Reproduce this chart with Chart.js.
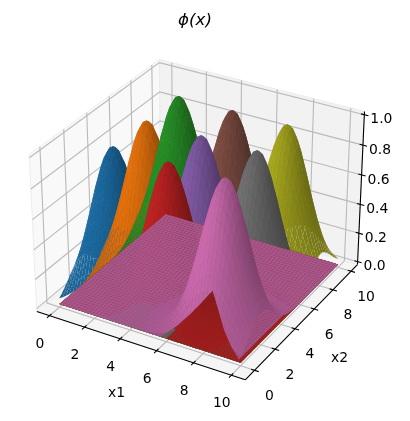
<!doctype html>
<html>
<head>
    <title>phi(x)</title>
    <script src="https://cdn.jsdelivr.net/npm/chart.js@4/dist/chart.umd.js"></script>
    <style>
        html, body { margin: 0; padding: 0; background: #fff; }
        canvas { display: block; }
    </style>
</head>
<body>
    <canvas id="canvas" width="410" height="421"></canvas>
    <script>
        // values
        const gridValues = [0,0.2,0.4,0.6,0.8,1,1.2,1.4,1.6,1.8,2,2.2,2.4,2.6,2.8,3,3.2,3.4,3.6,3.8,4,4.2,4.4,4.6,4.8,5,5.2,5.4,5.6,5.8,6,6.2,6.4,6.6,6.8,7,7.2,7.4,7.6,7.8,8,8.2,8.4,8.6,8.8,9,9.2,9.4,9.6,9.8,10];
        // height of a bump against grid steps away from its centre
        const bumpProfile = [1,0.984,0.938,0.866,0.775,0.671,0.563,0.458,0.361,0.275,0.203,0.145,0.101,0.068,0.044,0.028,0.017,0.01,0.006,0.003,0.002,0.001,0];
        const centreX1 = [2,2,2,5,5,5,8,8,8];
        const centreX2 = [2,5,8,2,5,8,2,5,8];
        const surfaceColours = ['#1f77b4','#ff7f0e','#2ca02c','#d62728','#9467bd','#8c564b','#e377c2','#7f7f7f','#bcbd22'];
        const paintOrder = [0,1,2,5,4,8,7,3,6];
        // floor outline where the last surface is missing and the red one shows
        const gapX1 = [5.6,5.7,5.88,5.9,5.87,5.79,6.85,8,9,10,10.5];
        const gapX2 = [-0.5,0.08,1.17,2.4,3.38,4.77,3.45,2,0.92,0,-0.5];
        const x1Ticks = [0,2,4,6,8,10];
        const x2Ticks = [0,2,4,6,8,10];
        const zTicks = [0,0.2,0.4,0.6,0.8,1];
        const zTickLabels = ['0.0','0.2','0.4','0.6','0.8','1.0'];

        const FONT = '"DejaVu Sans"';
        const xlim = [-0.5, 10.5], ylim = [-0.5, 10.5], zlim = [0, 1];
        const xlo = -0.729, xhi = 10.729, ylo = -0.88, yhi = 10.729, zlo = -0.0208, zhi = 1.0208;

        // same camera as a default mplot3d axes: elev 30, azim -60, dist 10
        const boxX = 1.1429, boxZ = 0.8571;
        const eye = [boxX/2 + 4.3301, boxX/2 - 7.5, boxZ/2 + 5];
        const U = [0.8660, 0.5, 0], V = [-0.25, 0.4330, 0.8660], W = [0.4330, -0.75, 0.5];

        function view(x1, x2, z) {
            const p = [
                (x1 - xlim[0]) / (xlim[1] - xlim[0]) * boxX - eye[0],
                (x2 - ylim[0]) / (ylim[1] - ylim[0]) * boxX - eye[1],
                (z - zlim[0]) / (zlim[1] - zlim[0]) * boxZ - eye[2]
            ];
            const d = -(W[0]*p[0] + W[1]*p[1] + W[2]*p[2]);
            return {
                x: (U[0]*p[0] + U[1]*p[1] + U[2]*p[2]) / d,
                y: (V[0]*p[0] + V[1]*p[1] + V[2]*p[2]) / d,
                depth: d
            };
        }

        // projected plane to canvas
        const zoom = 2030, originX = 198.5, originY = 213.5, titleBottom = 31;

        function shade(hex, k) {
            const n = parseInt(hex.slice(1), 16);
            return 'rgb(' + Math.round((n >> 16) * k) + ',' + Math.round(((n >> 8) & 255) * k) + ',' + Math.round((n & 255) * k) + ')';
        }

        function heightOf(s) {
            const ci = gridValues.indexOf(centreX1[s]), cj = gridValues.indexOf(centreX2[s]);
            return (i, j) => (bumpProfile[Math.abs(i - ci)] || 0) * (bumpProfile[Math.abs(j - cj)] || 0);
        }

        function addGap(ds) {
            ds.hole = gapX1.map((x1, i) => ds.data.push(view(x1, gapX2[i], 0)) - 1);
        }

        function surfaceDataset(s) {
            const n = gridValues.length, h = gridValues[1] - gridValues[0];
            const height = heightOf(s);
            const data = [], cells = [];
            for (let i = 0; i < n; i++) {
                for (let j = 0; j < n; j++) {
                    data.push(view(gridValues[i], gridValues[j], height(i, j)));
                }
            }
            for (let i = 0; i < n - 1; i++) {
                for (let j = 0; j < n - 1; j++) {
                    // normal of the cell from its diagonals, slopes a bit steeper to match the contrast
                    const dz1 = height(i+1, j+1) - height(i, j), dz2 = height(i, j+1) - height(i+1, j);
                    const nx = 1.3 * (dz2 - dz1) * h, ny = -1.3 * (dz1 + dz2) * h, nz = 2 * h * h;
                    const len = Math.hypot(nx, ny, nz);
                    const dot = (-0.6667 * nx - 0.6667 * ny + 0.3333 * nz) / len;
                    const k = 0.96 * (0.3 + 0.7 * (dot + 1) / 2);
                    const corners = [i*n+j, (i+1)*n+j, (i+1)*n+j+1, i*n+j+1];
                    let depth = 0;
                    corners.forEach(c => { depth += data[c].depth; });
                    cells.push({ corners: corners, colour: shade(surfaceColours[s], k), depth: depth });
                }
            }
            cells.sort((a, b) => b.depth - a.depth);
            return { type: 'surface', data: data, cells: cells };
        }

        // flat sheet under the raised part of a surface
        function floorDataset(s, k, fromX1, toX1) {
            const n = gridValues.length, height = heightOf(s);
            const data = [], cells = [];
            for (let i = 0; i < n; i++) {
                for (let j = 0; j < n; j++) {
                    data.push(view(gridValues[i], gridValues[j], 0));
                }
            }
            for (let i = 0; i < n - 1; i++) {
                if (gridValues[i] < fromX1 || gridValues[i+1] > toX1) continue;
                for (let j = 0; j < n - 1; j++) {
                    if (height(i, j) < 0.005 && height(i+1, j+1) < 0.005) continue;
                    cells.push({ corners: [i*n+j, (i+1)*n+j, (i+1)*n+j+1, i*n+j+1], colour: shade(surfaceColours[s], k) });
                }
            }
            return { type: 'surface', data: data, cells: cells };
        }

        function paneDataset(a, b, c, d, colour) {
            return {
                type: 'surface',
                data: [view(...a), view(...b), view(...c), view(...d)],
                cells: [{ corners: [0,1,2,3], colour: colour }],
                edge: '#ececec'
            };
        }

        function lineDataset(points, colour, width) {
            return {
                type: 'scatter', showLine: true, pointRadius: 0,
                borderColor: colour, borderWidth: width,
                data: points.map(p => view(...p))
            };
        }

        class SurfaceController extends Chart.ScatterController {
            draw() {
                const meta = this.getMeta(), ds = this.getDataset(), ctx = this.chart.ctx;
                const xs = meta.xScale, ys = meta.yScale;
                const trace = (list) => {
                    list.forEach((c, n) => {
                        const px = xs.getPixelForValue(ds.data[c].x), py = ys.getPixelForValue(ds.data[c].y);
                        if (n === 0) ctx.moveTo(px, py); else ctx.lineTo(px, py);
                    });
                    ctx.closePath();
                };
                ctx.save();
                if (ds.hole) {
                    ctx.beginPath();
                    ctx.rect(0, 0, this.chart.width, this.chart.height);
                    trace(ds.hole);
                    ctx.clip('evenodd');
                }
                ds.cells.forEach(cell => {
                    ctx.beginPath();
                    trace(cell.corners);
                    ctx.fillStyle = cell.colour;
                    ctx.fill();
                    if (ds.edge) { ctx.strokeStyle = ds.edge; ctx.lineWidth = 1; ctx.stroke(); }
                });
                ctx.restore();
            }
        }
        SurfaceController.id = 'surface';
        SurfaceController.defaults = Chart.ScatterController.defaults;
        Chart.register(SurfaceController);

        const grid = '#b9b9b9', ink = '#000', tickOut = 0.22, tickIn = 0.18;
        const layers = [];
        layers.push(paneDataset([xlo,ylo,zlo],[xlo,yhi,zlo],[xlo,yhi,zhi],[xlo,ylo,zhi],'#f9f9f9'));
        layers.push(paneDataset([xlo,yhi,zlo],[xhi,yhi,zlo],[xhi,yhi,zhi],[xlo,yhi,zhi],'#f2f2f2'));
        layers.push(paneDataset([xlo,ylo,zlo],[xhi,ylo,zlo],[xhi,yhi,zlo],[xlo,yhi,zlo],'#f5f5f5'));
        x1Ticks.forEach(t => layers.push(lineDataset([[t,ylo,zlo],[t,yhi,zlo],[t,yhi,zhi]], grid, 1.1)));
        x2Ticks.forEach(t => layers.push(lineDataset([[xhi,t,zlo],[xlo,t,zlo],[xlo,t,zhi]], grid, 1.1)));
        zTicks.forEach(t => layers.push(lineDataset([[xlo,ylo,t],[xlo,yhi,t],[xhi,yhi,t]], grid, 1.1)));
        layers.push(lineDataset([[xlo,ylo,zlo],[xhi,ylo,zlo]], ink, 1.1));
        layers.push(lineDataset([[xhi,ylo,zlo],[xhi,yhi,zlo]], ink, 1.1));
        layers.push(lineDataset([[xhi,yhi,zlo],[xhi,yhi,zhi]], ink, 1.1));
        x1Ticks.forEach(t => layers.push(lineDataset([[t,ylo+tickIn,zlo],[t,ylo-tickOut,zlo]], ink, 1.1)));
        x2Ticks.forEach(t => layers.push(lineDataset([[xhi-tickIn,t,zlo],[xhi+tickOut,t,zlo]], ink, 1.1)));
        zTicks.forEach(t => layers.push(lineDataset([[xhi-tickIn,yhi,t],[xhi+tickOut,yhi,t]], ink, 1.1)));
        paintOrder.forEach(s => {
            const ds = surfaceDataset(s);
            if (s === 3) layers.push(floorDataset(s, 0.72, 6, 10));
            if (s === 6) {
                const under = floorDataset(s, 0.7, 0, 9.8);
                addGap(under);
                addGap(ds);
                layers.push(under);
            }
            layers.push(ds);
        });
        // chart.js paints the highest order first
        layers.forEach((d, i) => { d.order = layers.length - i; d.xAxisID = 'x'; d.yAxisID = 'y'; d.clip = false; });

        const axisText = {
            id: 'axisText',
            afterDatasetsDraw(chart) {
                const ctx = chart.ctx, xs = chart.scales.x, ys = chart.scales.y;
                const put = (text, p, dx, dy) => {
                    const v = view(...p);
                    ctx.fillText(text, xs.getPixelForValue(v.x) + dx, ys.getPixelForValue(v.y) + dy);
                };
                ctx.save();
                ctx.fillStyle = '#000';
                ctx.font = '13.9px ' + FONT;
                ctx.textAlign = 'center';
                ctx.textBaseline = 'middle';
                x1Ticks.forEach(t => put(String(t), [t,ylo,zlo], -9.5, 28.5));
                x2Ticks.forEach(t => put(String(t), [xhi,t,zlo], 15, 26));
                zTicks.forEach((t, i) => put(zTickLabels[i], [xhi,yhi,t], 17, 5));
                put('x1', [5,ylo,zlo], -21.8, 48.7);
                put('x2', [xhi,5,zlo], 35, 39.5);
                ctx.restore();
            }
        };

        window.onload = function() {
            const ctx = document.getElementById('canvas').getContext('2d');
            window.surfaceChart = new Chart(ctx, {
                type: 'scatter',
                data: { datasets: layers },
                options: {
                    responsive: false,
                    animation: false,
                    events: [],
                    layout: { padding: { right: 20 } },
                    plugins: {
                        legend: { display: false },
                        tooltip: { enabled: false },
                        title: {
                            display: true,
                            text: '\u03d5(x)',
                            color: '#000',
                            font: { family: FONT, size: 16.67, style: 'italic', weight: 'normal' },
                            padding: { top: 11, bottom: 0 }
                        }
                    },
                    scales: {
                        x: { type: 'linear', display: false, min: -originX / zoom, max: (390 - originX) / zoom },
                        y: { type: 'linear', display: false, min: (originY - 421) / zoom, max: (originY - titleBottom) / zoom }
                    }
                },
                plugins: [axisText]
            });
        };
    </script>
</body>
</html>
